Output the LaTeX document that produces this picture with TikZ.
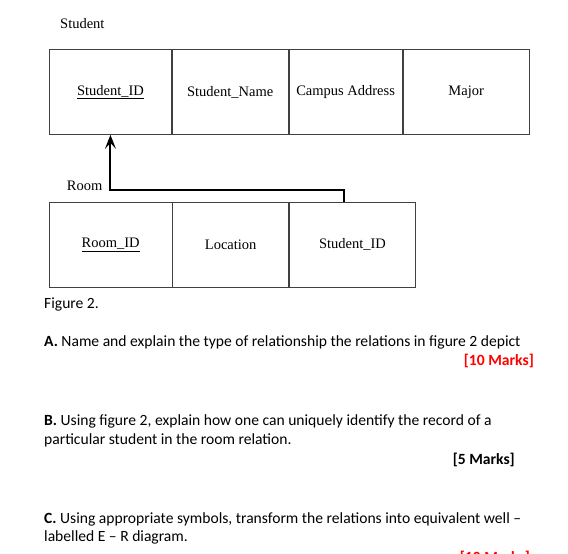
\documentclass[tikz,border=0pt]{standalone}
\usepackage{fontspec}
\setmainfont{Liberation Serif}
\newfontfamily\calibri{Carlito}
\usetikzlibrary{arrows.meta,positioning}

\begin{document}
\begin{tikzpicture}[x=1pt, y=-1pt, >={Stealth[length=14pt,width=11pt,inset=6pt]},
  cell/.style={draw=black!75, line width=0.9pt, minimum height=85pt,
    inner sep=0pt, font=\fontsize{14.5}{16}\selectfont},
  tname/.style={anchor=base west, inner sep=0pt, font=\fontsize{14.5}{16}\selectfont},
  qtext/.style={anchor=base west, inner sep=0pt, font=\calibri\fontsize{15.6}{19.5}\selectfont},
  marks/.style={anchor=base east, inner sep=0pt, font=\calibri\bfseries\fontsize{15.6}{19.5}\selectfont}]
  \useasboundingbox (0,0) rectangle (568,554);

  % Student relation
  \node[tname] (stu) at (60,28) {Student};
  \node[cell, minimum width=122pt, anchor=north west] (sid) at (49,49) {\underline{Student\_ID}};
  \node[cell, minimum width=115.7pt, right=0pt of sid] (sname) {Student\_Name};
  \node[cell, minimum width=113.3pt, right=0pt of sname] (saddr) {Campus Address};
  \node[cell, minimum width=126pt, right=0pt of saddr] (smajor) {Major};

  % Room relation
  \node[tname] (room) at (66.7,190.7) {Room};
  \node[cell, minimum width=122.5pt, anchor=north west] (rid) at (49,201.7) {\underline{Room\_ID}};
  \node[cell, minimum width=115.7pt, right=0pt of rid] (rloc) {Location};
  \node[cell, minimum width=126pt, right=0pt of rloc] (rsid) {Student\_ID};

  % foreign key Room.Student_ID -> Student.Student_ID
  \coordinate (fk) at ([xshift=-8pt]rsid.north);
  \draw[->, line width=2pt] (fk) -- ++(0,-11.7) -| (sid.south);

  % question text
  \node[qtext] (fig) at (44,308) {Figure 2.};
  \node[qtext] (qa) at (44,346) {\textbf{A.} Name and explain the type of relationship the relations in figure 2 depict};
  \node[marks, text=red] (ma) at (534,365) {[10 Marks]};
  \node[qtext] (qb1) at (44,425) {\textbf{B.} Using figure 2, explain how one can uniquely identify the record of a};
  \node[qtext] (qb2) at (44,444.5) {particular student in the room relation.};
  \node[marks] (mb) at (515,464) {[5 Marks]};
  \node[qtext] (qc1) at (44,523) {\textbf{C.} Using appropriate symbols, transform the relations into equivalent well –};
  \node[qtext] (qc2) at (44,541.5) {labelled E – R diagram.};
  \node[marks, text=red] (mc) at (530,562.5) {[10 Marks]};
\end{tikzpicture}
\end{document}
